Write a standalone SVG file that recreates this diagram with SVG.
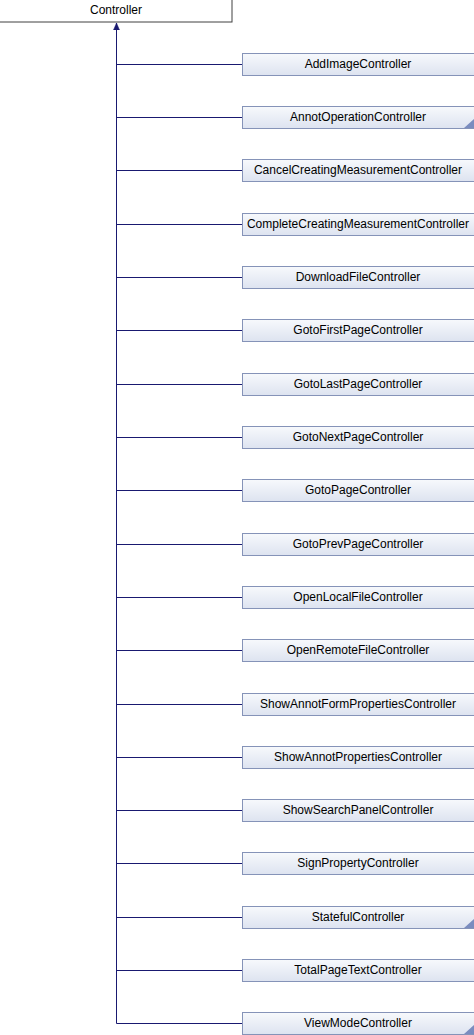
<svg xmlns="http://www.w3.org/2000/svg" width="474" height="1035" viewBox="0 0 474 1035">
<defs>
<linearGradient id="g" x1="0" y1="0" x2="0" y2="1">
<stop offset="0" stop-color="#f7f9fc"/>
<stop offset="1" stop-color="#dde3f0"/>
</linearGradient>
<marker id="arr" markerWidth="8" markerHeight="8" refX="7" refY="4" orient="auto" markerUnits="userSpaceOnUse">
<path d="M0,1 L7,4 L0,7 Z" fill="#191970" stroke="#191970" stroke-width="0.5"/>
</marker>
</defs>
<style>
.n rect{fill:url(#g);stroke:#8593b8;stroke-width:1}
.r rect{fill:#ffffff;stroke:#404040;stroke-width:1}
text{font-family:"Liberation Sans",Arial,sans-serif;font-size:12px;fill:#000;text-anchor:middle}
.c{stroke:#191970;stroke-width:1;fill:none}
.t{fill:#7a8cbf}
</style>
<g id="Controller" class="r"><rect x="-1" y="-1" width="233" height="23"/><text x="116" y="14">Controller</text></g>
<g id="connectors">
<path class="c" d="M116.5,1023.5 V23" marker-end="url(#arr)"/>
<path class="c" d="M116.5,64.5 H242 M116.5,117.5 H242 M116.5,170.5 H242 M116.5,224.5 H242 M116.5,277.5 H242 M116.5,330.5 H242 M116.5,384.5 H242 M116.5,437.5 H242 M116.5,490.5 H242 M116.5,544.5 H242 M116.5,597.5 H242 M116.5,650.5 H242 M116.5,704.5 H242 M116.5,757.5 H242 M116.5,810.5 H242 M116.5,863.5 H242 M116.5,917.5 H242 M116.5,970.5 H242 M116.5,1023.5 H242"/>
</g>
<g id="AddImageController" class="n"><rect x="242.5" y="53.5" width="234" height="22"/><text x="358" y="67.5">AddImageController</text></g>
<g id="AnnotOperationController" class="n"><rect x="242.5" y="106.5" width="234" height="22"/><text x="358" y="120.5">AnnotOperationController</text><path class="t" d="M464,128 L474,128 L474,119 Z"/></g>
<g id="CancelCreatingMeasurementController" class="n"><rect x="242.5" y="159.5" width="234" height="22"/><text x="358" y="173.5">CancelCreatingMeasurementController</text></g>
<g id="CompleteCreatingMeasurementController" class="n"><rect x="242.5" y="213.5" width="234" height="22"/><text x="358" y="227.5">CompleteCreatingMeasurementController</text></g>
<g id="DownloadFileController" class="n"><rect x="242.5" y="266.5" width="234" height="22"/><text x="358" y="280.5">DownloadFileController</text></g>
<g id="GotoFirstPageController" class="n"><rect x="242.5" y="319.5" width="234" height="22"/><text x="358" y="333.5">GotoFirstPageController</text></g>
<g id="GotoLastPageController" class="n"><rect x="242.5" y="373.5" width="234" height="22"/><text x="358" y="387.5">GotoLastPageController</text></g>
<g id="GotoNextPageController" class="n"><rect x="242.5" y="426.5" width="234" height="22"/><text x="358" y="440.5">GotoNextPageController</text></g>
<g id="GotoPageController" class="n"><rect x="242.5" y="479.5" width="234" height="22"/><text x="358" y="493.5">GotoPageController</text></g>
<g id="GotoPrevPageController" class="n"><rect x="242.5" y="533.5" width="234" height="22"/><text x="358" y="547.5">GotoPrevPageController</text></g>
<g id="OpenLocalFileController" class="n"><rect x="242.5" y="586.5" width="234" height="22"/><text x="358" y="600.5">OpenLocalFileController</text></g>
<g id="OpenRemoteFileController" class="n"><rect x="242.5" y="639.5" width="234" height="22"/><text x="358" y="653.5">OpenRemoteFileController</text></g>
<g id="ShowAnnotFormPropertiesController" class="n"><rect x="242.5" y="693.5" width="234" height="22"/><text x="358" y="707.5">ShowAnnotFormPropertiesController</text></g>
<g id="ShowAnnotPropertiesController" class="n"><rect x="242.5" y="746.5" width="234" height="22"/><text x="358" y="760.5">ShowAnnotPropertiesController</text></g>
<g id="ShowSearchPanelController" class="n"><rect x="242.5" y="799.5" width="234" height="22"/><text x="358" y="813.5">ShowSearchPanelController</text></g>
<g id="SignPropertyController" class="n"><rect x="242.5" y="852.5" width="234" height="22"/><text x="358" y="866.5">SignPropertyController</text></g>
<g id="StatefulController" class="n"><rect x="242.5" y="906.5" width="234" height="22"/><text x="358" y="920.5">StatefulController</text><path class="t" d="M464,928 L474,928 L474,919 Z"/></g>
<g id="TotalPageTextController" class="n"><rect x="242.5" y="959.5" width="234" height="22"/><text x="358" y="973.5">TotalPageTextController</text></g>
<g id="ViewModeController" class="n"><rect x="242.5" y="1012.5" width="234" height="22"/><text x="358" y="1026.5">ViewModeController</text><path class="t" d="M464,1034 L474,1034 L474,1025 Z"/></g>
</svg>
